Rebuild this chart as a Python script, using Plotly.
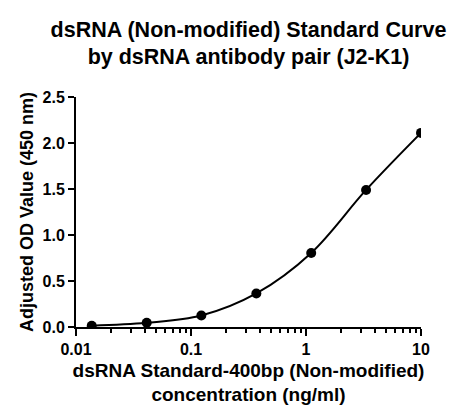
import plotly.graph_objects as go

# dsRNA standard, 3-fold dilution series (ng/ml) and adjusted OD at 450 nm
conc = [0.0137, 0.0412, 0.123, 0.370, 1.11, 3.33, 10.0]
od450 = [0.014, 0.046, 0.125, 0.365, 0.805, 1.49, 2.11]

x_ticks = [0.01, 0.1, 1, 10]
x_tick_text = ["0.01", "0.1", "1", "10"]
# minor log ticks 2..9 within each decade
x_minor = [m * 10 ** e for e in (-2, -1, 0) for m in range(2, 10)]

FONT = "Arial, Liberation Sans, sans-serif"

fig = go.Figure()
fig.add_trace(go.Scatter(
    x=conc, y=od450,
    mode="lines+markers",
    line=dict(color="black", width=2, shape="spline", smoothing=1.0),
    marker=dict(color="black", size=10),
    showlegend=False,
))

fig.update_layout(
    width=474, height=420,
    margin=dict(l=76, r=53, t=97, b=93),
    plot_bgcolor="white",
    paper_bgcolor="white",
    font=dict(family=FONT, color="black"),
    title=dict(
        text="<b>dsRNA (Non-modified) Standard Curve<br>by dsRNA antibody pair (J2-K1)</b>",
        x=0.5, xref="paper", xanchor="center",
        y=0.913, yref="container", yanchor="top",
        font=dict(family=FONT, size=21.5, color="black"),
    ),
)

fig.update_xaxes(
    type="log", range=[-2, 1],
    tickvals=x_ticks, ticktext=x_tick_text,
    ticks="outside", ticklen=7, tickwidth=2, tickcolor="black",
    minor=dict(tickvals=x_minor, ticks="outside", ticklen=4, tickwidth=1.5,
               tickcolor="black", showgrid=False),
    showline=True, linewidth=2, linecolor="black",
    showgrid=False, zeroline=False,
    tickfont=dict(family=FONT, size=16, color="black", weight="bold"),
    title=dict(text="<b>dsRNA Standard-400bp (Non-modified)<br>concentration (ng/ml)</b>",
               font=dict(family=FONT, size=19, color="black"), standoff=6),
)

fig.update_yaxes(
    range=[0, 2.5], dtick=0.5, tickformat=".1f",
    ticks="outside", ticklen=6, tickwidth=2, tickcolor="black",
    showline=True, linewidth=2, linecolor="black",
    showgrid=False, zeroline=False,
    tickfont=dict(family=FONT, size=16, color="black", weight="bold"),
    title=dict(text="<b>Adjusted OD Value (450 nm)</b>",
               font=dict(family=FONT, size=18, color="black"), standoff=4),
)

# the page body has a default 8px margin; drop it so the figure sits at the corner
fig.write_html("out.html", config={"displayModeBar": False},
               post_script="document.body.style.margin='0';")
